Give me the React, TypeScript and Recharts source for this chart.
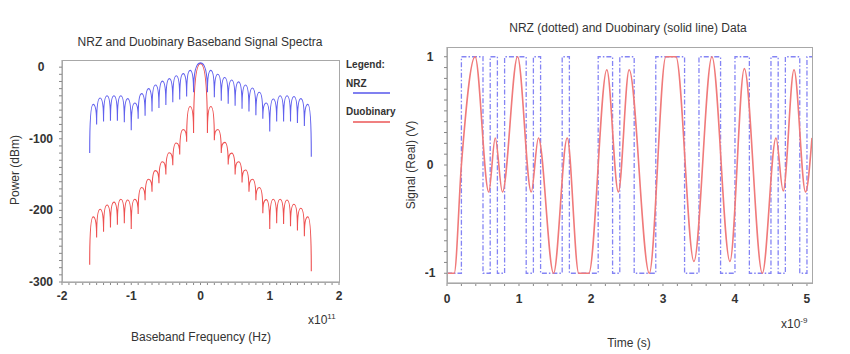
import React from 'react';
import { LineChart, Line, XAxis, YAxis } from 'recharts';

// Spectrum, frequency in units of 1e11 Hz, power in dBm (nulls and lobe peaks)
const freq = [
  -1.6, -1.55, -1.5, -1.45, -1.4, -1.35, -1.3, -1.25, -1.2, -1.15, -1.1, -1.05, -1.0,
  -0.95, -0.9, -0.85, -0.8, -0.75, -0.7, -0.65, -0.6, -0.55, -0.5, -0.45, -0.4, -0.35,
  -0.3, -0.25, -0.2, -0.15, -0.1, 0, 0.1, 0.15, 0.2, 0.25,
  0.3, 0.35, 0.4, 0.45, 0.5, 0.55, 0.6, 0.65, 0.7, 0.75, 0.8, 0.85, 0.9, 0.95, 1.0,
  1.05, 1.1, 1.15, 1.2, 1.25, 1.3, 1.35, 1.4, 1.45, 1.5, 1.55, 1.6,
];
const nrzPower = [
  -120, -52, -80, -43, -76, -40, -75, -40, -75, -40, -77, -44, -88,
  -50, -72, -37, -68, -30, -62, -25, -57, -19.5, -53, -16, -49, -12,
  -45, -9, -41, -4.5, -35, 6, -35, -4.5, -42, -10,
  -47, -14.5, -51, -18, -54, -20.5, -58, -25, -62, -29, -67, -35, -72, -50, -90,
  -44.5, -76, -40, -76, -40, -76, -41, -78, -44, -82, -52, -125,
];
const duoPower = [
  -276, -209, -238, -198.5, -230, -192.5, -224, -188.5, -220, -184.5, -218, -185.5, -226,
  -184.5, -205, -168, -186, -156.5, -174, -144.5, -162, -132, -150, -119.5, -137, -106,
  -122, -87, -104, -55, -92, 5, -92, -55, -102, -87,
  -120, -105, -136, -120, -150, -132, -161, -143.5, -174, -156.5, -186, -168, -204, -185, -226,
  -184.5, -218, -184.5, -219, -185.5, -222, -191.5, -228, -197, -236, -209, -285,
];

// Time domain, time in ns
const nrzTime = [0, 0.2, 0.5, 0.6, 0.7, 0.8, 1.1, 1.2, 1.3, 1.6, 1.7, 2.1, 2.3, 2.4, 2.6, 2.9, 3.3, 3.5, 3.8, 4.0, 4.2, 4.5, 4.6, 4.7, 4.9, 5.0, 5.07];
const nrzLevel = [-1, 1, -1, 1, -1, 1, -1, 1, -1, 1, -1, 1, -1, 1, -1, 1, -1, 1, -1, 1, -1, 1, -1, 1, -1, 1, 1];
const duoTime = [
  0, 0.1, 0.2, 0.39, 0.58, 0.67, 0.77, 0.98, 1.17, 1.27, 1.48, 1.67, 1.83, 1.97,
  2.22, 2.38, 2.53, 2.81, 3.04, 3.18, 3.43, 3.68, 3.93, 4.13, 4.38, 4.57, 4.67, 4.82, 4.98, 5.07,
];
const duoLevel = [
  -1, -1, 0, 1, -0.25, 0.25, -0.25, 1, -0.25, 0.25, -1, 0.25, -1, -1,
  0.88, -0.25, 0.88, -1, 1, 1, -0.89, 1, -0.89, 0.89, -1, 0.25, -0.24, 0.88, -0.25, 0.25,
];

const specTicksX = [-2, -1, 0, 1, 2];
const specTicksY = [0, -100, -200, -300];
const timeTicksX = [0, 1, 2, 3, 4, 5];
const timeTicksY = [-1, 0, 1];

const spectrum = freq.map((f, i) => ({ f, nrz: nrzPower[i], duo: duoPower[i] }));
const nrzData = nrzTime.map((t, i) => ({ t, v: nrzLevel[i] }));
const duoData = duoTime.map((t, i) => ({ t, v: duoLevel[i] }));

const FONT = '"Liberation Sans", Arial, sans-serif';
const tickStyle = { fontSize: 12, fill: '#333', fontWeight: 'bold', fontFamily: FONT };

// minor tick positions for the ruler look
const steps = (from: number, to: number, step: number) =>
  Array.from({ length: Math.round((to - from) / step) + 1 }, (_, i) => +(from + i * step).toFixed(3));

const isMajor = (majors: number[], v: number) => majors.some((m) => Math.abs(m - v) < 1e-6);
const onlyMajor = (majors: number[]) => (v: number) => (isMajor(majors, v) ? String(v) : '');

// lobe shape: flat at the peaks, dropping straight into the nulls
function archCurve(context: any) {
  let px = 0;
  let py = 0;
  let n = 0;
  return {
    areaStart() {},
    areaEnd() {},
    lineStart() {
      n = 0;
    },
    lineEnd() {},
    point(x: number, y: number) {
      x = +x;
      y = +y;
      if (n === 0) context.moveTo(x, y);
      else if (y > py) context.quadraticCurveTo(x, py, x, y);
      else context.quadraticCurveTo(px, y, x, y);
      px = x;
      py = y;
      n++;
    },
  };
}

// centred y tick labels, like the original plot
const centredTick = (majors: number[], shift: number) => (props: any) => {
  const v = props.payload.value;
  if (!isMajor(majors, v)) return <g />;
  return (
    <text x={props.x - shift} y={props.y + 4} textAnchor="middle" {...tickStyle}>
      {String(v)}
    </text>
  );
};

function Text({ x, y, children, size = 12, weight = 'normal', rotate = false, align = 'center' }: any) {
  return (
    <div
      style={{
        position: 'absolute',
        left: x,
        top: y,
        transform: rotate
          ? 'translate(-50%, -50%) rotate(-90deg)'
          : align === 'left'
          ? 'translate(0, -50%)'
          : 'translate(-50%, -50%)',
        whiteSpace: 'nowrap',
        fontSize: size,
        fontWeight: weight,
        fontFamily: FONT,
        color: '#333',
      }}
    >
      {children}
    </div>
  );
}

function Frame({ left, top, width, height }: any) {
  return (
    <div
      style={{
        position: 'absolute',
        left,
        top,
        width,
        height,
        border: '1px solid #a8a8a8',
        boxSizing: 'border-box',
        pointerEvents: 'none',
      }}
    />
  );
}

export default function App() {
  return (
    <div style={{ position: 'fixed', left: 0, top: 0, width: 850, height: 354, background: '#fff', overflow: 'hidden' }}>
      {/* Spectra */}
      <div style={{ position: 'absolute', left: 0, top: 0 }}>
        <LineChart width={425} height={354} data={spectrum} margin={{ top: 60, right: 86, bottom: 42, left: 22 }}>
          <XAxis
            dataKey="f"
            type="number"
            domain={[-2, 2]}
            ticks={steps(-2, 2, 0.1)}
            interval={0}
            tickFormatter={onlyMajor(specTicksX)}
            tick={tickStyle}
            tickSize={3}
            tickMargin={6}
            tickLine={{ stroke: '#888' }}
            axisLine={{ stroke: '#999' }}
            height={30}
            allowDataOverflow
          />
          <YAxis
            type="number"
            domain={[-300, 10]}
            ticks={steps(-300, 0, 10)}
            interval={0}
            tick={centredTick(specTicksY, 16)}
            tickSize={3}
            tickLine={{ stroke: '#888' }}
            axisLine={{ stroke: '#999' }}
            width={40}
            allowDataOverflow
          />
          <Line type={archCurve as any} dataKey="duo" stroke="#ee5050" strokeWidth={1.1} dot={false} isAnimationActive={false} />
          <Line type={archCurve as any} dataKey="nrz" stroke="#6060ee" strokeWidth={1.1} dot={false} isAnimationActive={false} />
        </LineChart>
      </div>
      <Frame left={62} top={60} width={278} height={223} />
      <Text x={200} y={42}>NRZ and Duobinary Baseband Signal Spectra</Text>
      <Text x={15} y={170} rotate>Power (dBm)</Text>
      <Text x={201} y={337}>Baseband Frequency (Hz)</Text>
      <Text x={308} y={319} align="left">
        x10<span style={{ fontSize: 8, verticalAlign: 'super' }}>11</span>
      </Text>

      {/* Legend */}
      <Text x={346} y={64} size={10} weight="bold" align="left">Legend:</Text>
      <Text x={346} y={83} size={10} weight="bold" align="left">NRZ</Text>
      <div style={{ position: 'absolute', left: 353, top: 92, width: 37, height: 1.5, background: '#8080f0' }} />
      <Text x={346} y={111} size={10} weight="bold" align="left">Duobinary</Text>
      <div style={{ position: 'absolute', left: 353, top: 121, width: 37, height: 1.5, background: '#f08080' }} />

      {/* Time domain */}
      <div style={{ position: 'absolute', left: 425, top: 0 }}>
        <LineChart width={425} height={354} margin={{ top: 47, right: 38, bottom: 41, left: 0 }}>
          <XAxis
            dataKey="t"
            type="number"
            domain={[0, 5.07]}
            ticks={steps(0, 5, 0.2)}
            interval={0}
            tickFormatter={onlyMajor(timeTicksX)}
            tick={tickStyle}
            tickSize={3}
            tickMargin={8}
            tickLine={{ stroke: '#888' }}
            axisLine={{ stroke: '#999' }}
            height={30}
            allowDataOverflow
          />
          <YAxis
            type="number"
            domain={[-1.09, 1.09]}
            ticks={steps(-1, 1, 0.1)}
            interval={0}
            tick={centredTick(timeTicksY, 12)}
            tickSize={3}
            tickLine={{ stroke: '#888' }}
            axisLine={{ stroke: '#999' }}
            width={22}
            allowDataOverflow
          />
          <Line
            data={nrzData}
            dataKey="v"
            type="stepAfter"
            stroke="#8484f4"
            strokeWidth={1.3}
            strokeDasharray="5 2 1.5 2"
            dot={false}
            isAnimationActive={false}
          />
          <Line
            data={duoData}
            dataKey="v"
            type="monotone"
            stroke="#f07a7a"
            strokeWidth={1.6}
            dot={false}
            isAnimationActive={false}
          />
        </LineChart>
      </div>
      <Frame left={447} top={47} width={366} height={237} />
      <Text x={628} y={28}>NRZ (dotted) and Duobinary (solid line) Data</Text>
      <Text x={411} y={165} rotate>Signal (Real) (V)</Text>
      <Text x={629} y={343}>Time (s)</Text>
      <Text x={781} y={323} align="left">
        x10<span style={{ fontSize: 8, verticalAlign: 'super' }}>-9</span>
      </Text>
    </div>
  );
}
